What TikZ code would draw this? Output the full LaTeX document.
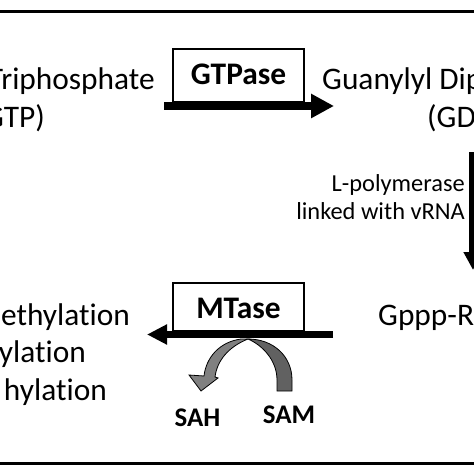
\documentclass[tikz,border=0pt]{standalone}
\usepackage{fontspec}
\setmainfont{Carlito}[Ligatures=NoCommon]
\usetikzlibrary{arrows.meta}
\begin{document}
\begin{tikzpicture}[x=1bp,y=-1bp,
  txt/.style={inner sep=0pt, font=\fontsize{31.5}{37}\selectfont},
  small/.style={inner sep=0pt, font=\fontsize{24.5}{29}\selectfont},
  enzbox/.style={draw, line width=1.3bp, minimum width=131bp, inner sep=0pt},
  enzlabel/.style={inner sep=0pt, font=\bfseries\fontsize{31.5}{36}\selectfont},
  cof/.style={inner sep=0pt, font=\bfseries\fontsize{27}{30}\selectfont},
  bigarrow/.style={line width=7.5bp, -{Triangle[length=23bp,width=23bp]}},
  rulel/.style={line width=3bp},
  band/.style={draw=black, line width=0.8bp},
]
\useasboundingbox (0,0) rectangle (474,474);
\clip (0,0) rectangle (474,474);
\fill[white] (0,0) rectangle (474,474);
% horizontal rules
\coordinate (r1) at (0,11.5); \coordinate (r2) at (474,11.5);
\coordinate (r3) at (0,463.3); \coordinate (r4) at (474,463.3);
\draw[rulel] (r1) -- (r2);
\draw[rulel] (r3) -- (r4);
% texts
\node[txt, anchor=base east] (gtp1) at (155,90) {Guanosine Triphosphate};
\node[txt, anchor=base east] (gtp2) at (45,128) {(GTP)};
\node[txt, anchor=base west] (gdp1) at (322,90) {Guanylyl Diphosphate};
\node[txt, anchor=base west] (gdp2) at (427,128) {(GDP)};
\node[small, anchor=base east] (lpol1) at (465,192) {L-polymerase};
\node[small, anchor=base east] (lpol2) at (465,220) {linked with vRNA};
\node[txt, anchor=base west] (gppp) at (378,325) {Gppp-RNA};
\node[txt, anchor=base east] (m1) at (130,325) {ethylation};
\node[txt, anchor=base east] (m2) at (86,362) {ylation};
\node[txt, anchor=base east] (m3) at (107,400) {hylation};
% enzyme boxes
\node[enzbox, minimum height=53bp] (gbox) at (238.5,75.5) {};
\node[enzlabel, anchor=base] (gtpase) at (238.5,85) {GTPase};
\node[enzbox, minimum height=48bp] (mbox) at (238.5,307) {};
\node[enzlabel, anchor=base] (mtase) at (238.5,318) {MTase};
% main arrows
\coordinate (a1) at (164,106); \coordinate (a2) at (334,106);
\draw[bigarrow] (a1) -- (a2);
\coordinate (a3) at (333,334.5); \coordinate (a4) at (147,334.5);
\draw[line width=7bp, -{Triangle[length=20bp,width=19bp]}] (a3) -- (a4);
\coordinate (a5) at (473,152); \coordinate (a6) at (473,270);
\draw[line width=8bp, -{Triangle[length=18bp,width=18bp]}] (a5) -- (a6);
% cofactor arrows
\filldraw[band, fill=black!62] (292,391) -- (292,380)
  .. controls (292,356) and (273,339) .. (248,339)
  .. controls (262,345) and (277,360) .. (277,380) -- (277,391) -- cycle;
\filldraw[band, fill=black!50] (241,339)
  .. controls (219,342) and (206,358) .. (204,376)
  -- (189,375) -- (201,391) -- (218,378) -- (215,377)
  .. controls (217,361) and (228,347) .. (248,339) -- cycle;
\node[cof, anchor=base] (sah) at (197.5,426) {SAH};
\node[cof, anchor=base] (sam) at (289,423) {SAM};
\end{tikzpicture}
\end{document}
